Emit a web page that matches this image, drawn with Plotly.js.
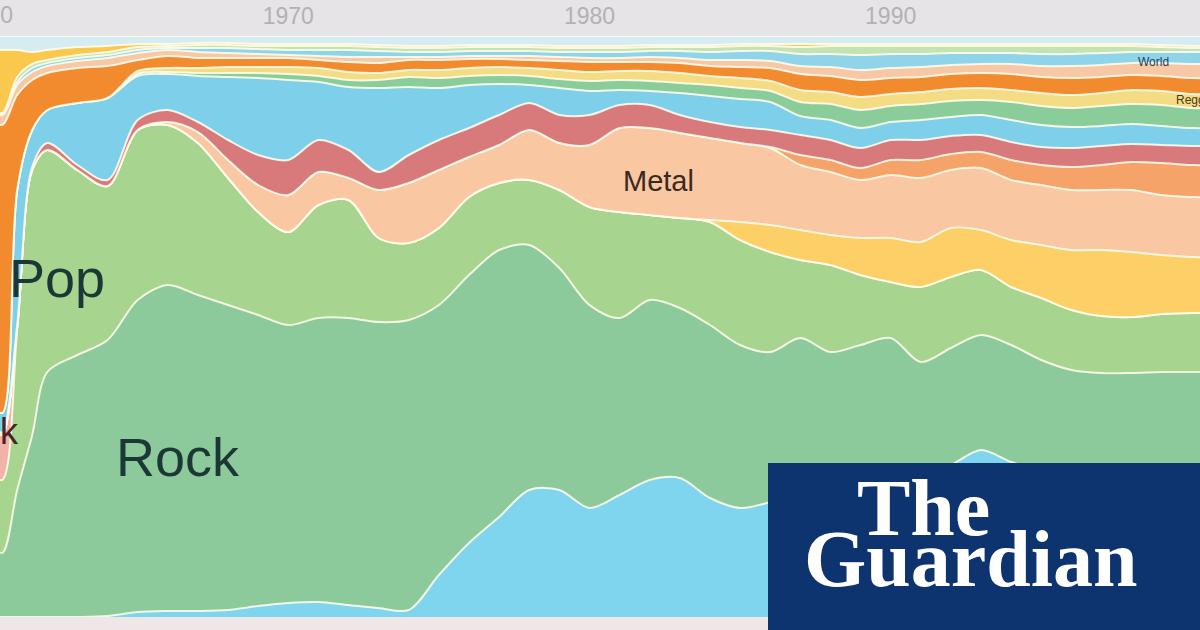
<!DOCTYPE html>
<html>
<head>
<meta charset="utf-8">
<script src="https://cdn.plot.ly/plotly-3.0.1.min.js"></script>
<style>
  html, body { margin: 0; padding: 0; background: #e6e4e7; }
  #chart { width: 1200px; height: 630px; }
</style>
</head>
<body>
<div id="chart"></div>
<script>
// Sample points (years); a couple of half-year samples capture the sharp early-1960s change
const years = [1960,1960.5,1961,1961.5,1962,1963,1964,1965,1966,1967,1968,1969,1970,1971,
  1972,1973,1974,1975,1976,1977,1978,1979,1980,1981,1982,1983,1984,1985,1986,1987,1988,1989,
  1990,1991,1992,1993,1994,1995,1996,1997,1998,1999,2000,2001];

// Relative share of each genre (bottom layer first)
const hipHop   = [0,0,0,0, 0,0,1,5,6,6,7,11,14,15, 12,9,7,42,74,100,127,127,109,122, 137,139,119,109,115,127,137,132,142,139, 152,167,155,147,147,142,147,149,149,149];
const rock     = [80,64,127,182, 245,262,276,312,326,316,305,291,278,284, 287,286,290,270,268,267,245,222,203,177, 180,170,173,163,150,152,128,140,137,116, 117,115,117,110,100,102,97,96,96,96];
const pop      = [70,73,160,265, 222,185,154,170,160,152,127,103,93,113, 118,84,77,77,78,67,65,78,98,106, 85,90,103,105,100,78,87,70,56,75, 71,65,58,62,60,57,56,58,59,59];
const folk     = [60,45,3,0, 0,0,0,0,0,0,0,0,0,0, 0,0,0,0,0,0,0,0,0,0, 0,0,0,0,0,0,0,0,0,0, 0,0,0,0,0,0,0,0,0,0];
const rnb      = [0,0,0,0, 0,0,0,0,0,0,0,0,0,0, 0,0,0,0,0,0,0,0,0,0, 0,0,2,18,27,30,30,37,44,45, 49,40,47,53,60,66,65,59,56,56];
const metal    = [0,0,0,0, 0,0,0,0,3,11,18,27,37,33, 22,48,60,58,40,38,50,47,62,84, 87,85,82,79,77,65,63,58,63,64, 58,62,60,60,60,60,62,60,60,60];
const punk     = [0,0,0,0, 0,0,0,0,0,0,0,0,0,0, 0,0,0,0,0,0,0,0,0,0, 0,0,0,0,1,10,12,12,15,18, 16,16,20,20,23,25,28,32,32,32];
const blues    = [2,2,2,3, 7,5,6,10,12,10,20,30,35,32, 28,18,28,30,29,30,27,28,30,23, 23,18,16,16,17,20,20,20,20,20, 18,17,18,18,19,19,18,18,19,19];
const soul     = [10,20,135,37, 33,62,82,44,36,46,63,77,80,58, 63,84,68,52,43,31,18,27,24,15, 14,22,26,28,28,19,20,20,18,20, 19,20,22,22,21,20,20,19,18,18];
const country  = [0,0,0,0, 0,0,0,2,2,3,4,5,6,6, 7,8,10,10,9,9,9,9,10,10, 10,10,11,11,11,14,16,18,16,16, 16,15,18,19,19,20,20,21,20,20];
const reggae   = [0,0,0,0, 0,0,0,3,4,5,6,6,7,8, 8,7,7,8,8,8,8,9,9,9, 10,10,9,10,10,12,12,13,12,12, 12,12,12,13,13,13,14,14,14,14];
const jazz     = [280,288,95,50, 37,35,32,11,12,10,9,9,9,8, 10,10,10,10,9,8,8,9,10,9, 9,10,10,11,13,16,16,17,16,15, 15,15,16,16,17,16,15,15,16,16];
const latin    = [10,10,10,8, 7,7,8,7,6,6,5,4,3,4, 5,6,3,3,3,3,4,4,4,4, 5,5,6,7,7,8,9,10,10,10, 9,9,10,11,12,12,12,13,14,14];
const world    = [0,0,3,4, 3,3,3,3,2,4,5,5,5,6, 7,6,5,5,5,5,5,5,6,6, 6,7,8,9,10,12,13,15,14,13, 12,11,11,12,12,12,11,11,12,12];
const electro  = [2,2,5,4, 3,3,3,3,2,3,3,3,4,4, 4,4,4,4,4,4,4,4,4,4, 4,4,5,5,5,7,8,9,8,8, 7,7,7,8,8,7,6,5,4,4];
const easy     = [55,63,27,12, 10,8,6,3,2,2,2,2,2,2, 2,2,2,2,2,2,2,2,2,2, 2,2,2,2,2,3,2,2,2,2, 2,2,2,2,2,2,2,2,2,2];
const other    = [12,14,14,16, 14,11,10,8,8,7,7,8,8,8, 8,9,10,10,9,9,9,10,10,10, 9,9,9,8,8,8,8,8,8,8, 8,8,8,8,8,8,8,9,10,10];

const seriesNames  = ["Hip hop","Rock","Pop","Folk","R&B","Metal","Punk","Blues","Soul","Country","Reggae","Jazz","Latin","World","Electronic","Easy listening","Other"];
const seriesValues = [hipHop,rock,pop,folk,rnb,metal,punk,blues,soul,country,reggae,jazz,latin,world,electro,easy,other];
const seriesColors = ["#7fd5ed","#8dca9b","#a7d48e","#f2b2a8","#fdd067","#f9c7a2","#f5a368","#d87a7c","#7ed0ea","#8acd9b","#f4dc84","#f28b2e","#f7c8a6","#8fd4e9","#c3e3b4","#fbc84e","#d5ecf2"];

const tickYears = [1970,1980,1990,2000];

const traces = seriesNames.map((name, i) => ({
  type: "scatter",
  mode: "lines",
  name: name,
  x: years,
  y: seriesValues[i],
  stackgroup: "genres",
  groupnorm: i === 0 ? "percent" : undefined,
  fillcolor: seriesColors[i],
  line: { shape: "spline", smoothing: 0.9, color: "rgba(255,253,236,0.88)", width: 2 },
  hoverinfo: "skip"
}));

// helpers converting picture pixels to paper coordinates for overlay text
const TOP = 36, BOT = 617, PH = BOT - TOP;
const px = p => p / 1200;
const py = p => (BOT - p) / PH;

function label(text, x, y, size, color, extra) {
  return Object.assign({
    xref: "paper", yref: "paper", x: px(x), y: py(y), text: text, showarrow: false,
    xanchor: "center", yanchor: "middle",
    font: { family: "Liberation Sans, Arial, sans-serif", size: size, color: color }
  }, extra || {});
}

const layout = {
  width: 1200, height: 630,
  margin: { l: 0, r: 0, t: TOP, b: 630 - BOT, pad: 0 },
  paper_bgcolor: "#e6e4e7",
  plot_bgcolor: "#e6e4e7",
  showlegend: false,
  xaxis: {
    type: "linear", range: [1960.43, 2000.27], side: "top",
    tickmode: "array", tickvals: tickYears, ticktext: tickYears.map(String),
    showgrid: false, zeroline: false, showline: false, ticks: "",
    ticklabelstandoff: 6,
    tickfont: { family: "Liberation Sans, Arial, sans-serif", size: 23, color: "#b3b1b4" },
    fixedrange: true
  },
  yaxis: { range: [0, 100], visible: false, fixedrange: true },
  shapes: [
    { type: "rect", xref: "paper", yref: "paper", x0: 0, x1: 1, y0: py(630), y1: py(BOT), fillcolor: "#efe6e8", line: { width: 0 }, layer: "below" },
    { type: "rect", xref: "paper", yref: "paper", x0: px(768), x1: px(1200), y0: py(631), y1: py(463), fillcolor: "#0e3470", line: { width: 0 }, layer: "above" }
  ],
  annotations: [
    label("1960", -13, 15, 23, "#b3b1b4"),
    label("Pop", 57, 278, 54, "#1c3836"),
    label("Rock", 178, 457, 54, "#1c3836"),
    label("Folk", 21, 431, 36, "#4a2326", { xanchor: "right" }),
    label("Metal", 658, 181, 29, "#3a2a22"),
    label("World", 1153, 62, 12, "#2b3d58"),
    label("Reggae", 1174, 100, 12, "#4b3a20", { xanchor: "left" }),
    { xref: "paper", yref: "paper", x: px(923), y: py(508), text: "<b>The</b>", showarrow: false,
      xanchor: "center", yanchor: "middle",
      font: { family: "Liberation Serif, DejaVu Serif, serif", size: 80, color: "#ffffff" } },
    { xref: "paper", yref: "paper", x: px(970), y: py(559), text: "<b>Guardian</b>", showarrow: false,
      xanchor: "center", yanchor: "middle",
      font: { family: "Liberation Serif, DejaVu Serif, serif", size: 80, color: "#ffffff" } }
  ]
};

Plotly.newPlot("chart", traces, layout, { displayModeBar: false, staticPlot: true });
</script>
</body>
</html>
